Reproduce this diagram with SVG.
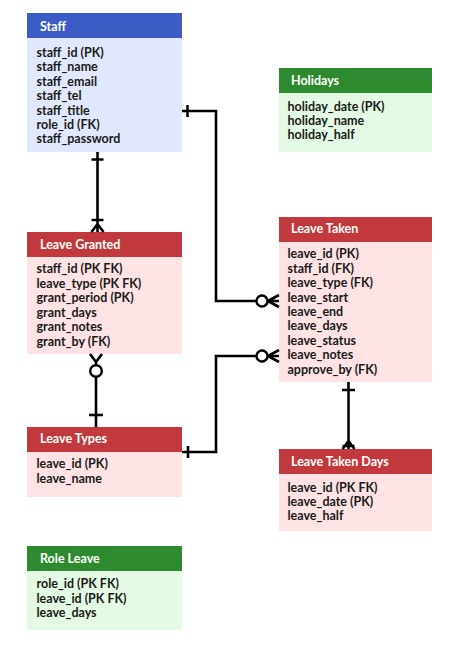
<svg xmlns="http://www.w3.org/2000/svg" width="474" height="648" viewBox="0 0 474 648">
<style>
text{font-family:Lato,"Liberation Sans",sans-serif;font-weight:bold;font-size:12.5px;fill:#1a1a1a}
.t{fill:#ffffff;font-size:12.5px}
.hb{fill:#3b5cc4}.bb{fill:#e1e8fb}
.hr{fill:#c1393c}.br{fill:#fde3e3}
.hg{fill:#2e8a2e}.bg{fill:#e4fae4}
.c{fill:none;stroke:#000;stroke-width:2.6}
.o{fill:#fff;stroke:#000;stroke-width:2.4}
</style>
<rect width="474" height="648" fill="#fff"/>
<g id="staff">
<rect class="bb" x="27" y="38" width="155" height="114"/>
<rect class="hb" x="27" y="13" width="155" height="25"/>
<text class="t" x="40" y="31">Staff</text>
<text x="36.5" y="57">staff_id (PK)</text>
<text x="36.5" y="71.4">staff_name</text>
<text x="36.5" y="85.8">staff_email</text>
<text x="36.5" y="100.2">staff_tel</text>
<text x="36.5" y="114.6">staff_title</text>
<text x="36.5" y="129">role_id (FK)</text>
<text x="36.5" y="143.4">staff_password</text>
</g>
<g id="holidays">
<rect class="bg" x="279" y="93" width="153" height="59"/>
<rect class="hg" x="279" y="68" width="153" height="25"/>
<text class="t" x="291" y="85">Holidays</text>
<text x="287.5" y="110.5">holiday_date (PK)</text>
<text x="287.5" y="125">holiday_name</text>
<text x="287.5" y="139.4">holiday_half</text>
</g>
<g id="leave-granted">
<rect class="br" x="27" y="257" width="155" height="97"/>
<rect class="hr" x="27" y="232" width="155" height="25"/>
<text class="t" x="40" y="248.5">Leave Granted</text>
<text x="36.5" y="273.3">staff_id (PK FK)</text>
<text x="36.5" y="287.8">leave_type (PK FK)</text>
<text x="36.5" y="302.3">grant_period (PK)</text>
<text x="36.5" y="316.8">grant_days</text>
<text x="36.5" y="331.3">grant_notes</text>
<text x="36.5" y="345.8">grant_by (FK)</text>
</g>
<g id="leave-taken">
<rect class="br" x="279" y="242" width="153" height="140"/>
<rect class="hr" x="279" y="217" width="153" height="25"/>
<text class="t" x="291" y="233">Leave Taken</text>
<text x="287.5" y="258.3">leave_id (PK)</text>
<text x="287.5" y="272.7">staff_id (FK)</text>
<text x="287.5" y="287.1">leave_type (FK)</text>
<text x="287.5" y="301.5">leave_start</text>
<text x="287.5" y="315.9">leave_end</text>
<text x="287.5" y="330.3">leave_days</text>
<text x="287.5" y="344.7">leave_status</text>
<text x="287.5" y="359.1">leave_notes</text>
<text x="287.5" y="373.5">approve_by (FK)</text>
</g>
<g id="leave-types">
<rect class="br" x="27" y="452" width="155" height="45"/>
<rect class="hr" x="27" y="427" width="155" height="25"/>
<text class="t" x="40" y="443">Leave Types</text>
<text x="36.5" y="468.3">leave_id (PK)</text>
<text x="36.5" y="483">leave_name</text>
</g>
<g id="leave-taken-days">
<rect class="br" x="279" y="474" width="153" height="57"/>
<rect class="hr" x="279" y="449" width="153" height="25"/>
<text class="t" x="291" y="465.5">Leave Taken Days</text>
<text x="287.5" y="491.7">leave_id (PK FK)</text>
<text x="287.5" y="506">leave_date (PK)</text>
<text x="287.5" y="520.4">leave_half</text>
</g>
<g id="role-leave">
<rect class="bg" x="27" y="571" width="155" height="59"/>
<rect class="hg" x="27" y="546" width="155" height="25"/>
<text class="t" x="40" y="562.5">Role Leave</text>
<text x="36.5" y="588.3">role_id (PK FK)</text>
<text x="36.5" y="602.7">leave_id (PK FK)</text>
<text x="36.5" y="617.2">leave_days</text>
</g>
<g id="connectors">
<!-- Staff to Leave Granted -->
<path class="c" d="M97.5 152V232M91.5 159.5H103.5M91.5 220H103.5M97.5 224L91.5 232M97.5 224L103.5 232"/>
<!-- Leave Granted to Leave Types -->
<path class="c" d="M96 377V427M89 415H103M96 362L90 354M96 362L102 354M96 362V365"/>
<circle class="o" cx="96" cy="371" r="5.8"/>
<!-- Staff to Leave Taken -->
<path class="c" d="M182 111H216V301H256M187.5 105V117M268 301L279 295M268 301L279 307M267 301H279"/>
<circle class="o" cx="262" cy="301" r="5.5"/>
<!-- Leave Types to Leave Taken -->
<path class="c" d="M182 452H216V356H256M188 446V458M268 356L279 350M268 356L279 362M267 356H279"/>
<circle class="o" cx="262" cy="356" r="5.5"/>
<!-- Leave Taken to Leave Taken Days -->
<path class="c" d="M348.5 382V449M342 390H355M342.5 446H354.5M348.5 441L342.5 449M348.5 441L354.5 449"/>
</g>
</svg>
